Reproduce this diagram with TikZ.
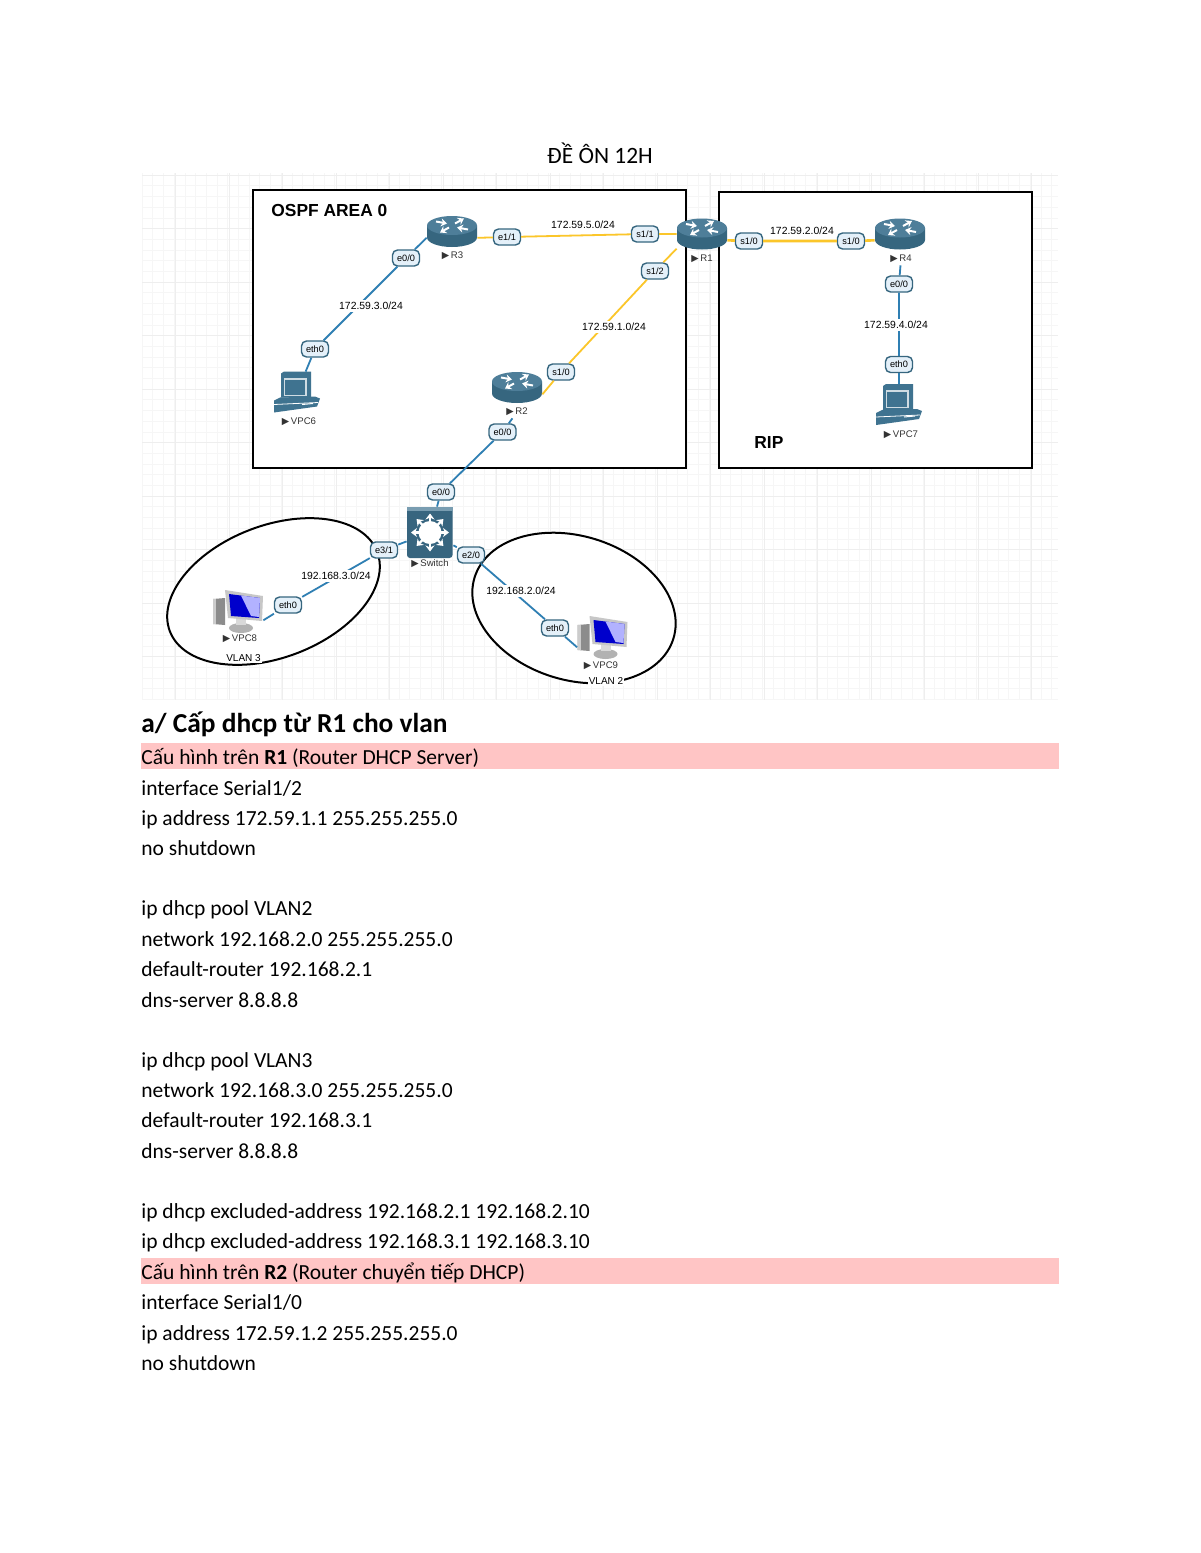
\documentclass[tikz,border=0pt]{standalone}
\usepackage{fontspec}
\setmainfont{Carlito}
\newfontfamily\netfont{Liberation Sans}
\newfontfamily\symfont{DejaVu Sans}
\usetikzlibrary{positioning, calc, arrows.meta}

\definecolor{routerblue}{HTML}{3F7390}
\definecolor{routerdark}{HTML}{36667F}
\definecolor{ethblue}{HTML}{2F7FB3}
\definecolor{serialyellow}{HTML}{FBC62A}
\definecolor{portfill}{HTML}{E4F0F9}
\definecolor{bandpink}{HTML}{FFC5C5}
\definecolor{gridminor}{HTML}{F6F6F6}
\definecolor{gridmajor}{HTML}{EEEEEE}

\newcommand{\playmark}{{\symfont\fontsize{4.8}{5}\selectfont ▶}\,}

\tikzset{
    zonebox/.style={draw=black, line width=1.3pt, fill=white},
    vlanring/.style={draw=black, line width=1pt, fill=white},
    zonelabel/.style={font=\netfont\bfseries\fontsize{8.7}{10}\selectfont, inner sep=0pt, anchor=west},
    devbox/.style={minimum width=#1, minimum height=15.5pt, inner sep=0pt},
    devname/.style={font=\netfont\fontsize{4.8}{6}\selectfont, text=black!80, inner sep=1pt},
    portlabel/.style={draw=routerdark, line width=0.7pt, fill=portfill, rounded corners=2.5pt,
        font=\netfont\fontsize{4.6}{6}\selectfont, minimum width=13.5pt, minimum height=8pt, inner sep=0pt},
    netlabel/.style={font=\netfont\fontsize{5.2}{6}\selectfont, fill=white, inner sep=1.2pt},
    vlanlabel/.style={font=\netfont\fontsize{5}{6}\selectfont, fill=white, inner sep=0.6pt},
    ethlink/.style={draw=ethblue, line width=0.9pt},
    seriallink/.style={draw=serialyellow, line width=0.9pt},
    bodytext/.style={font=\fontsize{10.75}{13}\selectfont, anchor=base west, inner sep=0pt},
    routerpic/.pic={
        \fill[routerdark] (-25,-6) -- (-25,6) arc[start angle=180, end angle=0, x radius=25, y radius=9.5] -- (25,-6) -- cycle;
        \fill[routerblue!92!white] (0,-6) ellipse[x radius=25, y radius=9.5];
        \draw[white, line width=1pt, -{Stealth[length=3pt,width=4pt]}] (-16,-10) -- (-5,-8);
        \draw[white, line width=1pt, -{Stealth[length=3pt,width=4pt]}] (16,-2) -- (5,-4);
        \draw[white, line width=1pt, -{Stealth[length=3pt,width=4pt]}] (3,-8) -- (12,-13);
        \draw[white, line width=1pt, -{Stealth[length=3pt,width=4pt]}] (-3,-4) -- (-12,1);
    },
    oldpcpic/.pic={
        \fill[routerblue] (-16,-19) -- (-13,-21) -- (14,-21) -- (14,5) -- (-16,5) -- cycle;
        \fill[white!75!routerblue] (-13,-15) rectangle (10,3);
        \fill[routerblue] (-12,-13) rectangle (8,2);
        \fill[routerblue] (-23,8) -- (-17,5) -- (18,4) -- (23,6) -- (20,14) -- (-23,20) -- cycle;
        \draw[white, line width=0.4pt] (-23,12) -- (21,10);
        \draw[white, line width=0.5pt] (5,12) -- (16,11);
    },
    winpcpic/.pic={
        \fill[black!45] (-25,-12) -- (-13,-13) -- (-13,14) -- (-25,13) -- cycle;
        \fill[black!20] (-25,-12) -- (-22,-12) -- (-22,13) -- (-25,13) -- cycle;
        \fill[black!30] (3,17) ellipse[x radius=12, y radius=5];
        \fill[black!15] (-2,6) rectangle (8,14);
        \fill[black!22] (-13,-21) -- (25,-15) -- (24,10) -- (-10,7) -- cycle;
        \fill[blue!80!black] (-9,-17) -- (22,-13) -- (21,7) -- (-7,5) -- cycle;
        \fill[blue!30!white] (3,-15.5) -- (22,-13) -- (21,6) -- (13,5) -- cycle;
    },
    switchpic/.pic={
        \fill[routerblue!88!black, rounded corners=1.5pt] (-23,-25.5) rectangle (22.5,25.5);
        \fill[routerblue!70!white] (-23,-25.5) rectangle (22.5,-22);
        \foreach \ang in {0,45,...,315} {
            \draw[white, line width=1.1pt, -{Stealth[length=3pt,width=4.5pt]}] (\ang:10) -- (\ang:19);
        }
        \fill[white] (0,0) circle (11.5);
    },
}

\begin{document}
\begin{tikzpicture}[x=0.5pt, y=-0.5pt]
    \useasboundingbox (0,0) rectangle (1200,1553);
    \fill[white] (0,0) rectangle (1200,1553);

    \node[bodytext, anchor=base, font=\fontsize{11.7}{13}\selectfont] (title) at (600,163) {ĐỀ ÔN 12H};

    % grid behind the topology
    \foreach \gx in {0,...,85} {
        \draw[gridminor, line width=0.3pt] ({142+\gx*10.7},173) -- ({142+\gx*10.7},700);
    }
    \foreach \gy in {0,...,49} {
        \draw[gridminor, line width=0.3pt] (142,{175+\gy*10.7}) -- (1058,{175+\gy*10.7});
    }
    \foreach \gx in {0,...,16} {
        \draw[gridmajor, line width=0.4pt] ({175.5+\gx*53.5},173) -- ({175.5+\gx*53.5},700);
    }
    \foreach \gy in {0,...,9} {
        \draw[gridmajor, line width=0.4pt] (142,{175+\gy*53.5}) -- (1058,{175+\gy*53.5});
    }

    % zones
    \draw[zonebox] (253,190) rectangle (686,468);
    \draw[zonebox] (719,192) rectangle (1032,468);
    \node[zonelabel] (ospfzone) at (271,211) {OSPF AREA 0};
    \node[zonelabel] (ripzone) at (754,443) {RIP};
    \draw[vlanring, rotate around={21:(273.5,591.5)}] (273.5,591.5) ellipse[x radius=111, y radius=66];
    \draw[vlanring, rotate around={-17:(574,608)}] (574,608) ellipse[x radius=104, y radius=72];

    % devices
    \node[devbox=25pt] (R3) at (452,231.5) {};
    \node[devbox=25pt] (R1) at (702,234) {};
    \node[devbox=25pt] (R4) at (900,234) {};
    \node[devbox=25pt] (R2) at (517,387.5) {};
    \node[devbox=23pt, minimum height=20.5pt] (VPC6) at (297,392.5) {};
    \node[devbox=23pt, minimum height=20.5pt] (VPC7) at (899,405) {};
    \node[devbox=25pt, minimum height=21pt] (VPC8) at (238,611) {};
    \node[devbox=25pt, minimum height=21pt] (VPC9) at (602.5,637) {};
    \node[devbox=23pt, minimum height=25.5pt] (Switch) at (430,532.5) {};

    \pic at (R3) {routerpic};
    \pic at (R1) {routerpic};
    \pic at (R4) {routerpic};
    \pic at (R2) {routerpic};
    \pic at (VPC6) {oldpcpic};
    \pic at (VPC7) {oldpcpic};
    \pic at (VPC8) {winpcpic};
    \pic at (VPC9) {winpcpic};
    \pic at (Switch) {switchpic};

    \node[devname] (nameR3) at (452.5,256) {\playmark R3};
    \node[devname] (nameR1) at (702,259) {\playmark R1};
    \node[devname] (nameR4) at (901,259) {\playmark R4};
    \node[devname] (nameR2) at (517,412) {\playmark R2};
    \node[devname] (nameVPC6) at (299,422) {\playmark VPC6};
    \node[devname] (nameVPC7) at (901,435) {\playmark VPC7};
    \node[devname] (nameVPC8) at (240,639) {\playmark VPC8};
    \node[devname] (nameVPC9) at (601,666) {\playmark VPC9};
    \node[devname] (nameSwitch) at (430,564) {\playmark Switch};

    % port labels
    \node[portlabel] (R3e0) at (406,258) {e0/0};
    \node[portlabel] (R3e1) at (507,237) {e1/1};
    \node[portlabel] (R1s1) at (645,234) {s1/1};
    \node[portlabel] (R1s2) at (655,271) {s1/2};
    \node[portlabel] (R1s0) at (749,241) {s1/0};
    \node[portlabel] (R4s0) at (851,241) {s1/0};
    \node[portlabel] (R4e0) at (899,284) {e0/0};
    \node[portlabel] (VPC7e) at (899,364.5) {eth0};
    \node[portlabel] (R2s0) at (561,372) {s1/0};
    \node[portlabel] (R2e0) at (502.5,432) {e0/0};
    \node[portlabel] (VPC6e) at (315,349) {eth0};
    \node[portlabel] (Swe0) at (441,492) {e0/0};
    \node[portlabel] (Swe3) at (384,550) {e3/1};
    \node[portlabel] (Swe2) at (471,555) {e2/0};
    \node[portlabel] (VPC8e) at (288,605) {eth0};
    \node[portlabel] (VPC9e) at (555,628) {eth0};

    % links
    \draw[ethlink] (R3.194) -- (R3e0) -- (VPC6e) -- (VPC6);
    \draw[seriallink] (R3.-14) -- (R3e1) -- (R1s1) -- (R1);
    \draw[seriallink] (R1.210) -- (R1s2) -- (R2s0) -- (R2.-15);
    \draw[seriallink, line width=1.3pt] (R1.-14) -- (R1s0) -- (R4s0) -- (R4.194);
    \draw[ethlink] (nameR4) -- (R4e0) -- (VPC7e) -- (VPC7);
    \draw[ethlink] (nameR2) -- (R2e0) -- (Swe0) -- (Switch);
    \draw[ethlink] (Switch) -- (Swe3) -- (VPC8e) -- (VPC8.-20);
    \draw[ethlink] (Switch) -- (Swe2) -- (VPC9e) -- (VPC9.202);

    % networks and vlans
    \node[netlabel] (net3) at (371,306) {172.59.3.0/24};
    \node[netlabel] (net5) at (583,225) {172.59.5.0/24};
    \node[netlabel] (net1) at (614,327) {172.59.1.0/24};
    \node[netlabel] (net2) at (802,231) {172.59.2.0/24};
    \node[netlabel] (net4) at (896,325) {172.59.4.0/24};
    \node[netlabel] (netv3) at (336,576) {192.168.3.0/24};
    \node[netlabel] (netv2) at (521,591) {192.168.2.0/24};
    \node[vlanlabel] (vlan3) at (243.5,658) {VLAN 3};
    \node[vlanlabel] (vlan2) at (606,681) {VLAN 2};

    % config text
    \fill[bandpink] (141,743) rectangle (1059,769);
    \fill[bandpink] (141,1258) rectangle (1059,1284);
    \node[bodytext, font=\bfseries\fontsize{13.7}{16}\selectfont] (heading) at (141,732) {a/ Cấp dhcp từ R1 cho vlan};
    \node[bodytext] (line1) at (141,764) {Cấu hình trên \textbf{R1} (Router DHCP Server)};
    \node[bodytext] (line2) at (141,795) {interface Serial1/2};
    \node[bodytext] (line3) at (141,825) {ip address 172.59.1.1 255.255.255.0};
    \node[bodytext] (line4) at (141,855) {no shutdown};
    \node[bodytext] (line5) at (141,915) {ip dhcp pool VLAN2};
    \node[bodytext] (line6) at (141,946) {network 192.168.2.0 255.255.255.0};
    \node[bodytext] (line7) at (141,976) {default-router 192.168.2.1};
    \node[bodytext] (line8) at (141,1007) {dns-server 8.8.8.8};
    \node[bodytext] (line9) at (141,1067) {ip dhcp pool VLAN3};
    \node[bodytext] (line10) at (141,1097) {network 192.168.3.0 255.255.255.0};
    \node[bodytext] (line11) at (141,1127) {default-router 192.168.3.1};
    \node[bodytext] (line12) at (141,1158) {dns-server 8.8.8.8};
    \node[bodytext] (line13) at (141,1218) {ip dhcp excluded-address 192.168.2.1 192.168.2.10};
    \node[bodytext] (line14) at (141,1248) {ip dhcp excluded-address 192.168.3.1 192.168.3.10};
    \node[bodytext] (line15) at (141,1279) {Cấu hình trên \textbf{R2} (Router chuyển tiếp DHCP)};
    \node[bodytext] (line16) at (141,1309) {interface Serial1/0};
    \node[bodytext] (line17) at (141,1340) {ip address 172.59.1.2 255.255.255.0};
    \node[bodytext] (line18) at (141,1370) {no shutdown};
\end{tikzpicture}
\end{document}
